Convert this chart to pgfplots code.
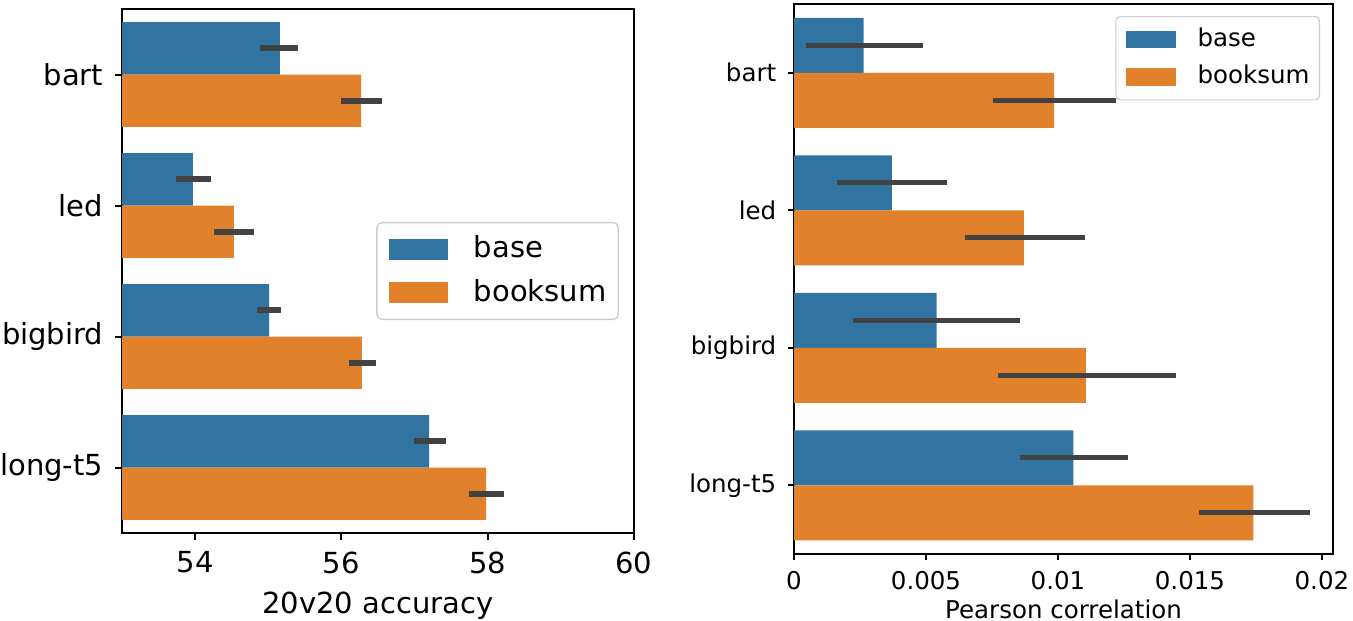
\documentclass[border=0pt]{standalone}
\usepackage{fontspec}
\setmainfont{DejaVu Sans}
\usepackage{pgfplots}
\pgfplotsset{compat=1.18}
\definecolor{sbblue}{HTML}{3274A1}
\definecolor{sborange}{HTML}{E1812C}
\definecolor{errgray}{HTML}{424242}
\definecolor{leggray}{HTML}{CCCCCC}

\newcommand{\bigfont}{\fontsize{8.7}{10}\selectfont}
\newcommand{\smallfont}{\fontsize{7.35}{8.5}\selectfont}

\pgfplotsset{
  panel/.style={
    scale only axis,
    anchor=north west,
    y dir=reverse,
    ymin=-0.5, ymax=3.5,
    ytick={0,1,2,3},
    yticklabels={bart,led,bigbird,long-t5},
    tick align=outside,
    xtick pos=lower, ytick pos=left,
    axis line style={black},
    every tick/.style={black},
    /pgf/number format/assume math mode=true,
    clip=true,
  },
}

\begin{document}
\begin{tikzpicture}
\path[use as bounding box] (0,0) rectangle (405.9pt,-186pt);

% left panel: 20v20 accuracy
\begin{axis}[panel,
  at={(36.6pt,-2.7pt)},
  width=153.6pt, height=157.2pt,
  xmin=53, xmax=60,
  xtick={54,56,58,60},
  major tick length=2.1pt,
  axis line style={line width=0.6pt},
  every tick/.style={black, line width=0.6pt},
  tick label style={font=\bigfont},
  xlabel={20v20 accuracy},
  xlabel style={font=\bigfont, at={(axis description cs:0.5,0)}, anchor=north, yshift=-14.2pt},
  legend style={at={(1,0.5)}, anchor=east, xshift=-4.5pt,
    font=\bigfont, draw=leggray, line width=0.4pt, rounded corners=1.5pt,
    fill=white, fill opacity=0.8, text opacity=1,
    inner xsep=3.6pt, inner ysep=3.9pt, row sep=5pt, column sep=7.8pt,
    nodes={inner sep=0pt, anchor=west}},
  legend cell align=left,
  legend image code/.code={\path[#1, fill opacity=1, sharp corners] (0pt,-3.15pt) rectangle (17.7pt,3.15pt);},
]
\addplot[xbar, bar width=0.4, bar shift=-0.2, fill=sbblue, draw=none]
  coordinates {(55.16,0) (53.97,1) (55.01,2) (57.20,3)};
\addlegendentry{base}
\addplot[xbar, bar width=0.4, bar shift=0.2, fill=sborange, draw=none]
  coordinates {(56.27,0) (54.53,1) (56.28,2) (57.98,3)};
\addlegendentry{booksum}
\addplot[errgray, line width=1.7pt, forget plot, unbounded coords=jump] coordinates {
  (54.89,-0.2) (55.41,-0.2) (nan,nan)
  (53.74,0.8) (54.21,0.8) (nan,nan)
  (54.85,1.8) (55.18,1.8) (nan,nan)
  (56.99,2.8) (57.43,2.8)
};
\addplot[errgray, line width=1.7pt, forget plot, unbounded coords=jump] coordinates {
  (55.99,0.2) (56.56,0.2) (nan,nan)
  (54.26,1.2) (54.80,1.2) (nan,nan)
  (56.11,2.2) (56.47,2.2) (nan,nan)
  (57.75,3.2) (58.22,3.2)
};
\end{axis}

% right panel: Pearson correlation
\begin{axis}[panel,
  at={(238.2pt,-1.2pt)},
  width=161.7pt, height=165pt,
  xmin=0, xmax=0.02042,
  xtick={0,0.005,0.01,0.015,0.02},
  xticklabels={0,0.005,0.01,0.015,0.02},
  scaled x ticks=false,
  major tick length=1.8pt,
  axis line style={line width=0.5pt},
  every tick/.style={black, line width=0.5pt},
  tick label style={font=\smallfont},
  xlabel={Pearson correlation},
  xlabel style={font=\smallfont, at={(axis description cs:0.5,0)}, anchor=north, yshift=-10.2pt},
  legend style={at={(1,1)}, anchor=north east, xshift=-3.9pt, yshift=-3.6pt,
    font=\smallfont, draw=leggray, line width=0.35pt, rounded corners=1.3pt,
    fill=white, fill opacity=0.8, text opacity=1,
    inner xsep=3pt, inner ysep=3.3pt, row sep=4.2pt, column sep=6.6pt,
    nodes={inner sep=0pt, anchor=west}},
  legend cell align=left,
  legend image code/.code={\path[#1, fill opacity=1, sharp corners] (0pt,-2.65pt) rectangle (14.9pt,2.65pt);},
]
\addplot[xbar, bar width=0.4, bar shift=-0.2, fill=sbblue, draw=none]
  coordinates {(0.00264,0) (0.00371,1) (0.00540,2) (0.01058,3)};
\addlegendentry{base}
\addplot[xbar, bar width=0.4, bar shift=0.2, fill=sborange, draw=none]
  coordinates {(0.00985,0) (0.00871,1) (0.01106,2) (0.01740,3)};
\addlegendentry{booksum}
\addplot[errgray, line width=1.45pt, forget plot, unbounded coords=jump] coordinates {
  (0.00045,-0.2) (0.00487,-0.2) (nan,nan)
  (0.00164,0.8) (0.00581,0.8) (nan,nan)
  (0.00224,1.8) (0.00856,1.8) (nan,nan)
  (0.00855,2.8) (0.01265,2.8)
};
\addplot[errgray, line width=1.45pt, forget plot, unbounded coords=jump] coordinates {
  (0.00754,0.2) (0.01220,0.2) (nan,nan)
  (0.00649,1.2) (0.01103,1.2) (nan,nan)
  (0.00774,2.2) (0.01447,2.2) (nan,nan)
  (0.01533,3.2) (0.01953,3.2)
};
\end{axis}
\end{tikzpicture}
\end{document}
